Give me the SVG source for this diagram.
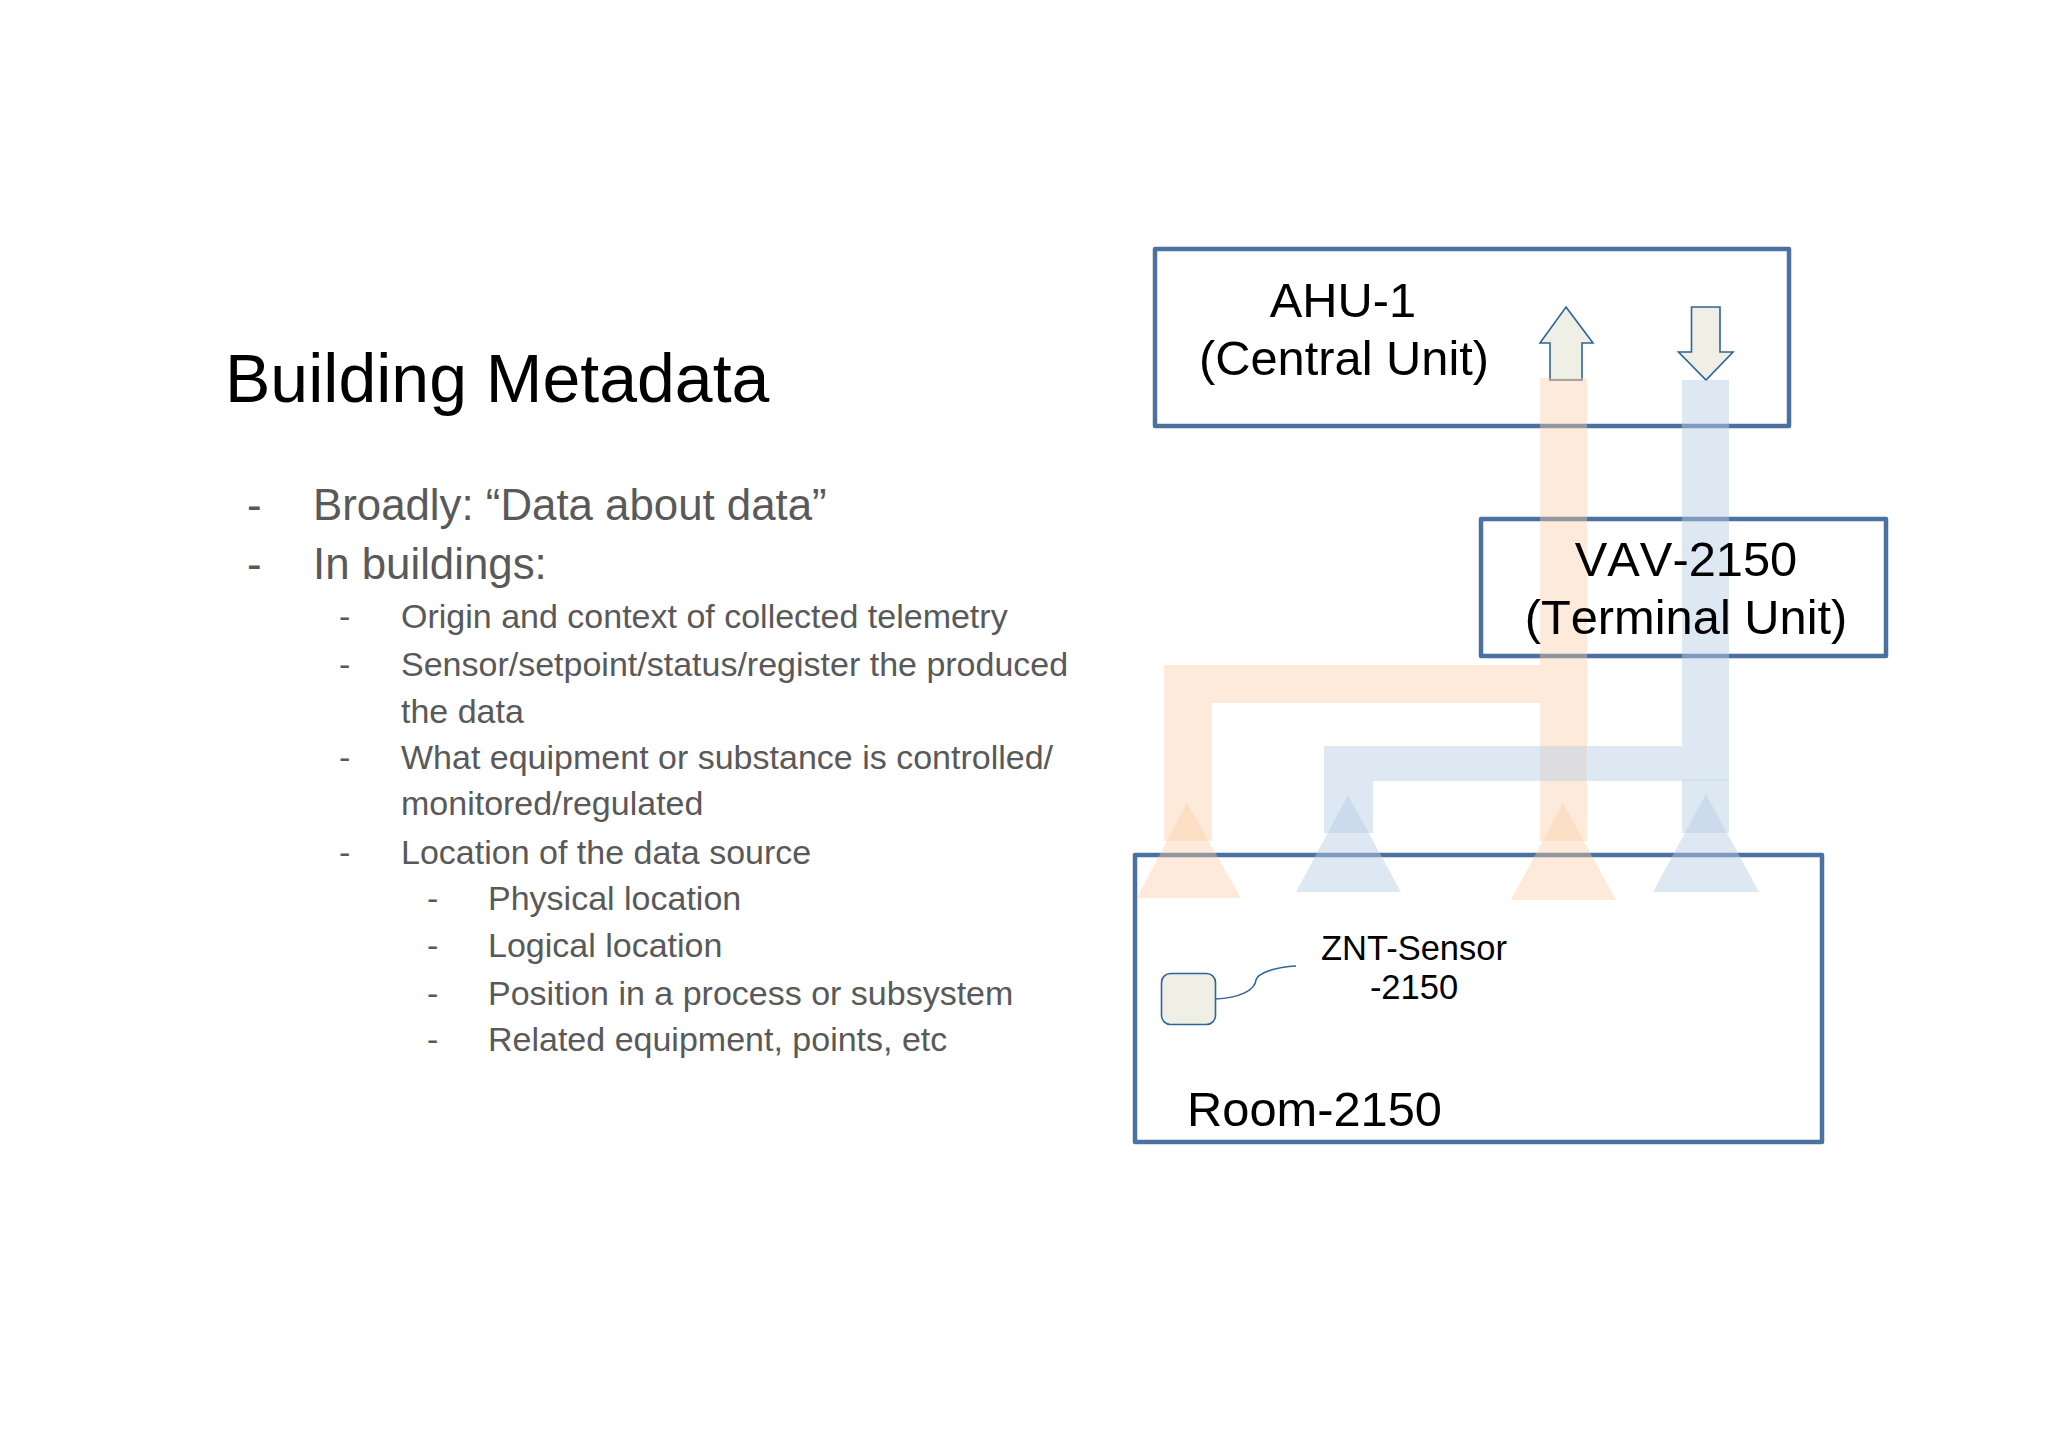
<svg xmlns="http://www.w3.org/2000/svg" width="2048" height="1447" viewBox="0 0 2048 1447">
<style>
text{font-family:"Liberation Sans",Arial,sans-serif}
.box{fill:none;stroke:#4a719f;stroke-width:4.5;stroke-linejoin:round}
.lbl{fill:#000;font-size:48.8px;text-anchor:middle}
.nk{font-kerning:none}
.b1{fill:#595959;font-size:43.8px}
.b2{fill:#595959;font-size:34px}
.org{fill:#f9cba5;opacity:.41}
.blu{fill:#b8cce4;opacity:.46}
.ar{fill:#efefe6;stroke:#2f6496;stroke-width:1.6;stroke-linejoin:miter}
</style>
<rect width="2048" height="1447" fill="#fff"/>
<g id="title"><text x="225" y="402" font-size="68" fill="#000">Building Metadata</text></g>
<g id="bullets">
<text class="b1" x="247" y="520">-</text><text class="b1" x="313" y="520">Broadly: “Data about data”</text>
<text class="b1" x="247" y="579">-</text><text class="b1" x="313" y="579">In buildings:</text>
<text class="b2" x="339" y="628">-</text><text class="b2" x="401" y="628">Origin and context of collected telemetry</text>
<text class="b2" x="339" y="676">-</text><text class="b2" x="401" y="676">Sensor/setpoint/status/register the produced</text>
<text class="b2" x="401" y="723">the data</text>
<text class="b2" x="339" y="769">-</text><text class="b2" x="401" y="769">What equipment or substance is controlled/</text>
<text class="b2" x="401" y="815">monitored/regulated</text>
<text class="b2" x="339" y="864">-</text><text class="b2" x="401" y="864">Location of the data source</text>
<text class="b2" x="427" y="910">-</text><text class="b2" x="488" y="910">Physical location</text>
<text class="b2" x="427" y="957">-</text><text class="b2" x="488" y="957">Logical location</text>
<text class="b2" x="427" y="1005">-</text><text class="b2" x="488" y="1005">Position in a process or subsystem</text>
<text class="b2" x="427" y="1051">-</text><text class="b2" x="488" y="1051">Related equipment, points, etc</text>
</g>
<g id="ahu"><rect class="box" x="1155" y="249" width="634" height="177"/>
<text class="lbl" x="1343" y="317">AHU-1</text><text class="lbl" x="1344" y="375">(Central Unit)</text></g>
<g id="vav"><rect class="box" x="1481" y="519" width="405" height="137"/></g>
<g id="room"><rect class="box" x="1135" y="855" width="687" height="287"/>
<text x="1187" y="1126" font-size="48.8" fill="#000">Room-2150</text></g>
<g id="sensor"><rect class="ar" x="1161.500" y="973.500" width="54" height="51" rx="9"/>
<text x="1414" y="960" font-size="34.500" text-anchor="middle" fill="#000">ZNT-Sensor</text>
<text x="1414" y="999" font-size="34.500" text-anchor="middle" fill="#000">-2150</text></g>
<g id="arrow-up"><path class="ar" d="M1566 307L1593 343H1582V380H1550V343H1540Z"/></g>
<g id="arrow-down"><path class="ar" d="M1691.500 307H1720V352H1733L1706 380L1678.500 352H1691.500Z"/></g>
<g id="connectors">
<path class="org" d="M1540 378H1587V841H1540V703H1212V841H1164V665H1540Z"/>
<path class="blu" d="M1682 380H1729V833H1682V781H1373V833H1324V746H1682Z"/>
<path d="M1682 780H1729" fill="none" stroke="#b8cce4" stroke-width="1.500" opacity=".4"/>
<path class="org" d="M1187 803L1241 898H1137Z"/>
<path class="blu" d="M1348 795L1401 892H1296Z"/>
<path class="org" d="M1563 803L1616 900H1511Z"/>
<path class="blu" d="M1706 794L1759 892H1653Z"/>
<path d="M1215 999C1240 998 1255 990 1256 980C1258 973 1275 967 1296 966" fill="none" stroke="#2f6496" stroke-width="1.600"/>
</g>
<g id="vav-label"><text class="lbl nk" x="1686" y="576">VAV-2150</text><text class="lbl nk" x="1686" y="634">(Terminal Unit)</text></g>
</svg>
